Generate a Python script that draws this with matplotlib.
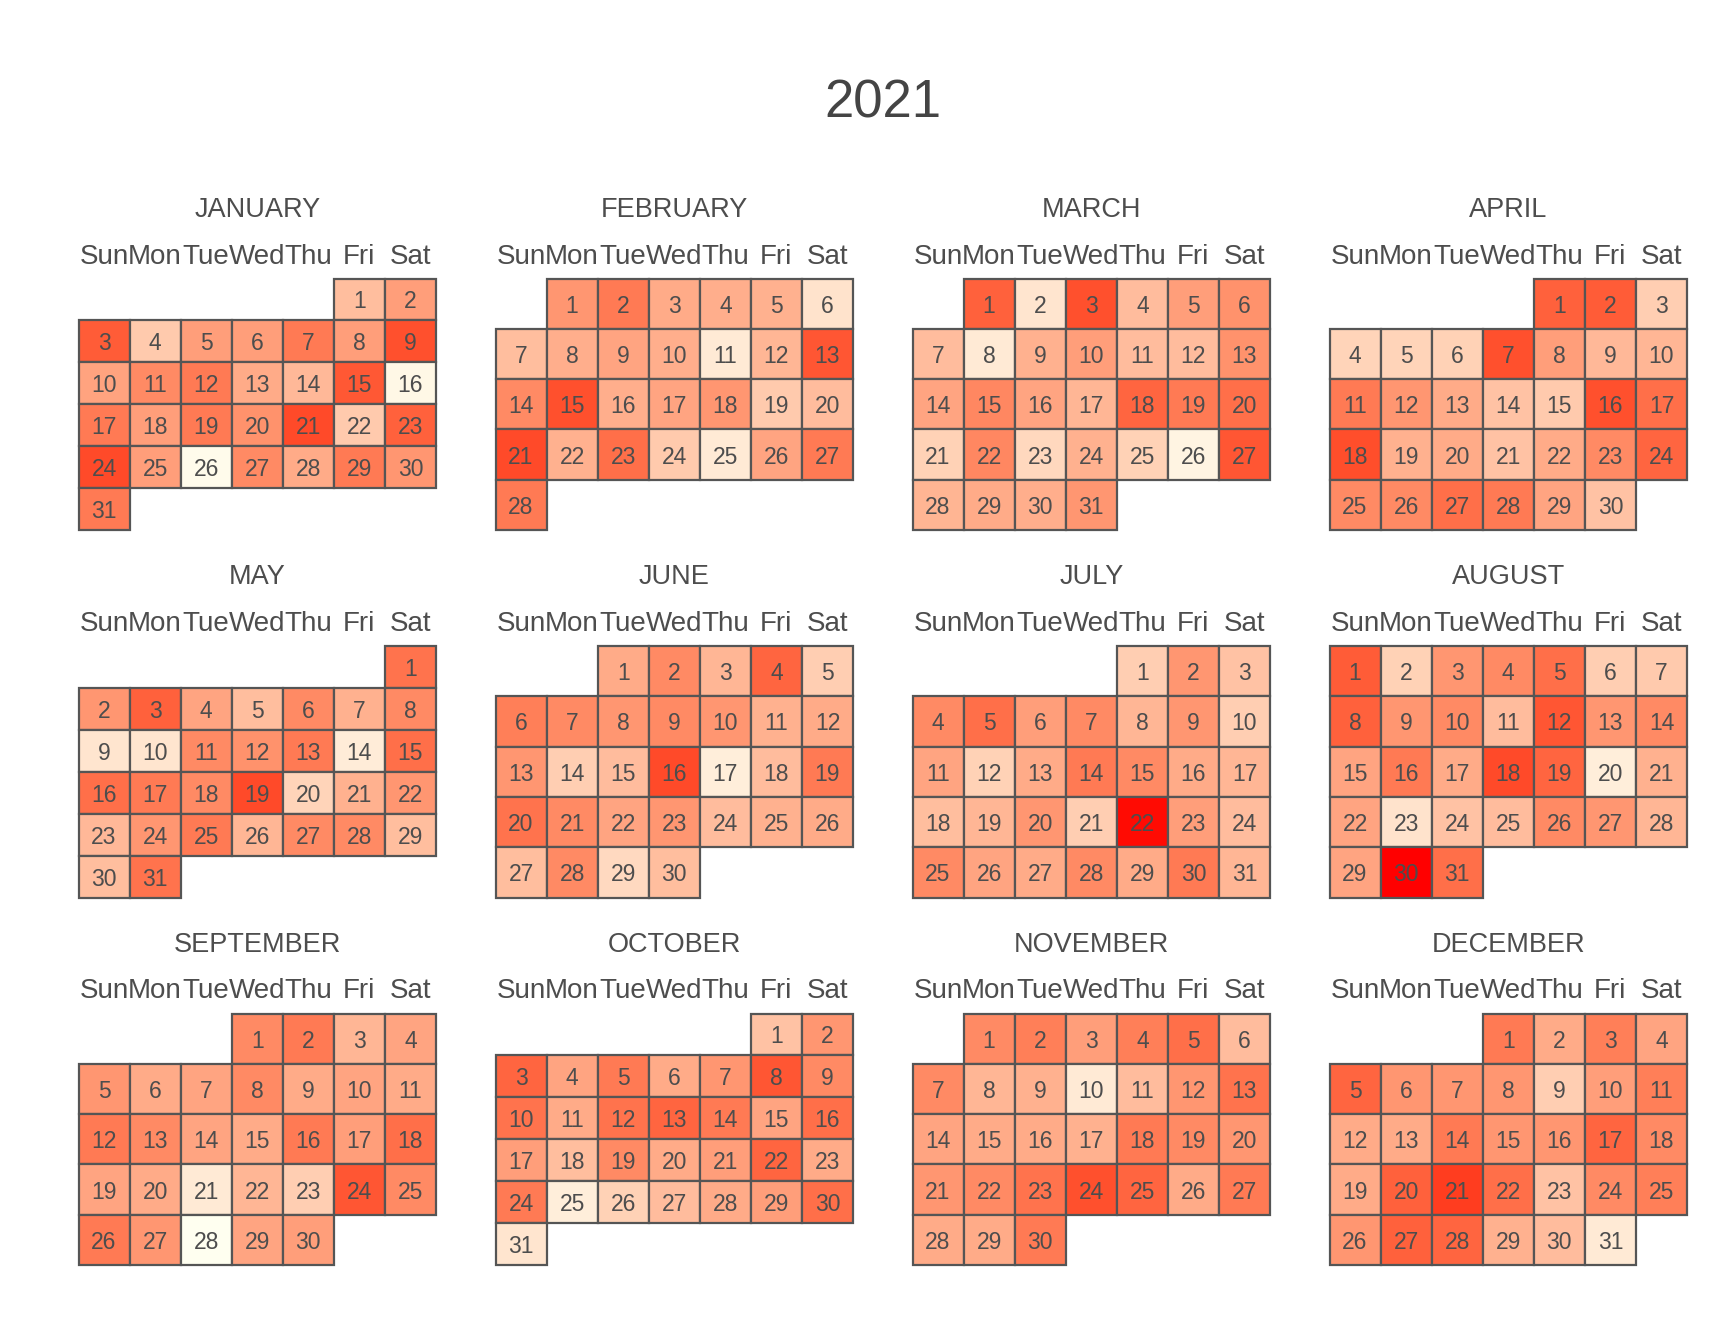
import calendar
import datetime as dt
import numpy as np
import matplotlib
matplotlib.use("Agg")
import matplotlib.pyplot as plt
from matplotlib.colors import ListedColormap, Normalize
from matplotlib.patches import Rectangle

plt.rcParams['font.family'] = ['Liberation Sans', 'DejaVu Sans']

YEAR = 2021
title = "2021"
month_names = ["JANUARY", "FEBRUARY", "MARCH", "APRIL", "MAY", "JUNE",
               "JULY", "AUGUST", "SEPTEMBER", "OCTOBER", "NOVEMBER", "DECEMBER"]
weekday_labels = ["Sun", "Mon", "Tue", "Wed", "Thu", "Fri", "Sat"]

jan = [34, 50, 80, 28, 50, 50, 67, 50, 84, 48, 60, 67, 44, 37, 81, 4, 67, 50, 67, 56, 86, 28, 78, 86, 50, 2, 60, 44, 67, 54, 67]
feb = [54, 67, 44, 42, 41, 15, 34, 42, 47, 42, 11, 38, 82, 60, 84, 42, 47, 54, 28, 35, 86, 41, 72, 28, 11, 47, 67, 67]
mar = [78, 14, 84, 35, 50, 56, 35, 11, 41, 50, 35, 35, 56, 47, 61, 47, 38, 76, 67, 72, 24, 61, 21, 41, 24, 6, 82, 39, 44, 42, 54]
apr = [78, 80, 26, 23, 23, 24, 84, 50, 37, 38, 67, 54, 44, 32, 28, 84, 72, 85, 41, 44, 32, 44, 60, 76, 60, 60, 72, 67, 47, 32]
may = [70, 54, 78, 47, 34, 60, 41, 60, 14, 14, 60, 56, 67, 10, 72, 72, 67, 60, 86, 23, 41, 54, 37, 54, 67, 38, 60, 60, 34, 34, 70]
jun = [44, 60, 38, 76, 26, 65, 60, 54, 60, 54, 41, 44, 54, 26, 35, 86, 9, 35, 67, 70, 60, 47, 54, 35, 41, 44, 34, 60, 20, 34]
jul = [26, 54, 32, 60, 72, 50, 60, 38, 54, 26, 47, 24, 44, 67, 60, 44, 38, 34, 38, 54, 26, 99, 50, 35, 60, 47, 44, 60, 44, 67, 38]
aug = [80, 24, 54, 60, 72, 26, 28, 78, 54, 60, 35, 82, 54, 60, 47, 67, 44, 86, 76, 9, 41, 47, 15, 32, 35, 60, 54, 38, 47, 100, 72]
sep = [60, 67, 38, 47, 54, 44, 47, 60, 44, 47, 44, 67, 60, 47, 44, 67, 50, 72, 47, 44, 11, 38, 26, 82, 60, 67, 54, 0, 47, 50]
oct_ = [32, 54, 76, 47, 67, 44, 54, 82, 60, 70, 44, 70, 76, 67, 47, 72, 50, 34, 60, 44, 50, 76, 44, 67, 9, 24, 35, 44, 50, 72, 14]
nov = [60, 65, 50, 65, 72, 35, 60, 38, 41, 11, 35, 54, 70, 47, 44, 44, 41, 67, 60, 54, 54, 60, 70, 84, 76, 44, 67, 44, 44, 67]
dec = [67, 44, 65, 47, 76, 54, 54, 54, 26, 50, 65, 44, 44, 67, 54, 54, 76, 60, 44, 78, 90, 72, 32, 60, 65, 54, 78, 76, 41, 35, 11]
month_values = [jan, feb, mar, apr, may, jun, jul, aug, sep, oct_, nov, dec]

LOW = "#FFFFF0"
HIGH = "#FF0000"


# ---- Lab-space gradient (like ggplot's scale_fill_gradient) ----
def _hex_rgb(h):
    h = h.lstrip('#')
    return np.array([int(h[i:i + 2], 16) / 255 for i in (0, 2, 4)])


def _srgb_to_lin(c):
    return np.where(c <= 0.04045, c / 12.92, ((c + 0.055) / 1.055) ** 2.4)


def _lin_to_srgb(c):
    c = np.clip(c, 0, 1)
    return np.where(c <= 0.0031308, 12.92 * c, 1.055 * c ** (1 / 2.4) - 0.055)


M = np.array([[0.4124, 0.3576, 0.1805], [0.2126, 0.7152, 0.0722], [0.0193, 0.1192, 0.9505]])
Minv = np.linalg.inv(M)
WP = np.array([0.95047, 1.0, 1.08883])


def _f(t):
    d = 6 / 29
    return np.where(t > d ** 3, np.cbrt(t), t / (3 * d * d) + 4 / 29)


def _finv(t):
    d = 6 / 29
    return np.where(t > d, t ** 3, 3 * d * d * (t - 4 / 29))


def rgb_to_lab(rgb):
    xyz = M @ _srgb_to_lin(rgb) / WP
    fx, fy, fz = _f(xyz)
    return np.array([116 * fy - 16, 500 * (fx - fy), 200 * (fy - fz)])


def lab_to_rgb(lab):
    L, a, b = lab
    fy = (L + 16) / 116
    fx = fy + a / 500
    fz = fy - b / 200
    xyz = np.array([_finv(fx), _finv(fy), _finv(fz)]) * WP
    return _lin_to_srgb(Minv @ xyz)


lab_lo, lab_hi = rgb_to_lab(_hex_rgb(LOW)), rgb_to_lab(_hex_rgb(HIGH))
cols = [lab_to_rgb(lab_lo + t * (lab_hi - lab_lo)) for t in np.linspace(0, 1, 256)]
cmap = ListedColormap(np.clip(np.array(cols), 0, 1))
all_vals = np.concatenate([np.array(v, float) for v in month_values])
norm = Normalize(vmin=all_vals.min(), vmax=all_vals.max())

# ---- figure ----
W, H = 1728, 1344
fig = plt.figure(figsize=(W / 100, H / 100), dpi=100)
fig.patch.set_facecolor('white')

TXT = '#4d4d4d'
EDGE = '#555555'
col_left0, col_step = 78.5, 417.0
row_top0, row_step = 278.5, 367.5
gw, gh = 357.5, 251.5

fig.text((col_left0 + 3 * col_step + gw + col_left0) / 2 / W, 1 - 117.5 / H, title,
         ha='center', va='baseline', fontsize=38, color='#444444')

for m in range(12):
    r, c = divmod(m, 4)
    left = col_left0 + c * col_step
    top = row_top0 + r * row_step
    ax = fig.add_axes([left / W, 1 - (top + gh) / H, gw / W, gh / H])
    ndays = calendar.monthrange(YEAR, m + 1)[1]
    offset = (dt.date(YEAR, m + 1, 1).weekday() + 1) % 7
    nweeks = (offset + ndays - 1) // 7 + 1
    vals = month_values[m]
    for d in range(1, ndays + 1):
        k = offset + d - 1
        wd, wk = k % 7, k // 7
        ax.add_patch(Rectangle((wd, wk), 1, 1, facecolor=cmap(norm(vals[d - 1])),
                               edgecolor=EDGE, linewidth=1.6, clip_on=False))
        ax.text(wd + 0.5, wk + 0.5, str(d), ha='center', va='center_baseline',
                fontsize=16.5, color=TXT)
    ax.set_xlim(0, 7)
    ax.set_ylim(nweeks, 0)
    ax.axis('off')
    cx = (left + gw / 2) / W
    fig.text(cx, 1 - (top - 61.6) / H, month_names[m], ha='center', va='baseline',
             fontsize=19.5, color=TXT)
    for i, wl in enumerate(weekday_labels):
        fig.text((left + (i + 0.5) * gw / 7) / W, 1 - (top - 15) / H, wl,
                 ha='center', va='baseline', fontsize=20, color=TXT)

fig.savefig("out.png", dpi=100, facecolor='white')
